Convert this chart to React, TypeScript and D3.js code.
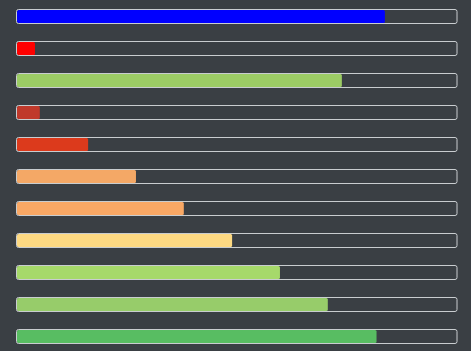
import React, { useEffect, useRef } from 'react';
import * as d3 from 'd3';

// progress values, percent of full track
const labels = ['p1', 'p2', 'p3', 'p4', 'p5', 'p6', 'p7', 'p8', 'p9', 'p10', 'p11'];
const values = [83.8, 4.1, 74, 5.2, 16.2, 27.1, 38, 49, 59.9, 70.8, 81.9];
const colors = ['#0000ff', '#ff0000', '#9ccc65', '#c0392b', '#dc3a1c', '#f4a866', '#f9a865', '#fdd982', '#a6d96a', '#97cc6a', '#58bd62'];

const App = () => {
    const svgRef = useRef<SVGSVGElement>(null);

    useEffect(() => {
        const width = 471;
        const height = 351;

        const svg = d3.select(svgRef.current);
        svg.selectAll('*').remove();

        svg.attr('width', width).attr('height', height);

        svg.append('rect')
            .attr('width', width)
            .attr('height', height)
            .attr('fill', '#3a3f44');

        const scaleY = d3.scaleBand()
            .domain(labels)
            .range([9.5, 343.5])
            .paddingInner(18 / 32)
            .paddingOuter(0);

        const scaleX = d3.scaleLinear()
            .domain([0, 100])
            .range([17, 456]);

        const rows = svg.selectAll('g.row')
            .data(labels)
            .enter()
            .append('g')
            .attr('class', 'row');

        // filled bar
        rows.append('rect')
            .attr('x', scaleX(0))
            .attr('y', (d) => scaleY(d)! + 0.5)
            .attr('width', (_, i) => scaleX(values[i]) - scaleX(0))
            .attr('height', scaleY.bandwidth() - 1)
            .attr('rx', 1.5)
            .attr('fill', (_, i) => colors[i]);

        // track outline
        rows.append('rect')
            .attr('x', 16.5)
            .attr('y', (d) => scaleY(d)!)
            .attr('width', 440.5)
            .attr('height', scaleY.bandwidth())
            .attr('rx', 2)
            .attr('fill', 'none')
            .attr('stroke', '#c9cdd0')
            .attr('stroke-width', 1);
    }, []);

    return (
        <div style={{ position: 'fixed', left: 0, top: 0 }}>
            <svg ref={svgRef} style={{ display: 'block' }}></svg>
        </div>
    );
};

export default App;
